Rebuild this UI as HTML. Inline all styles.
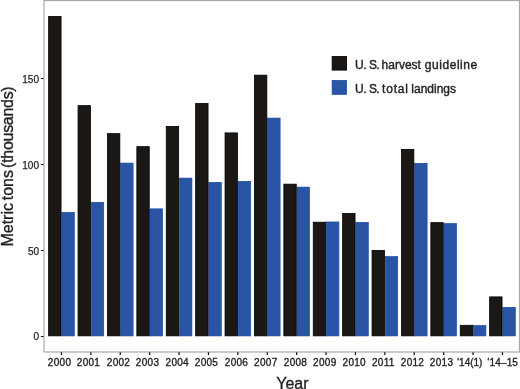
<!DOCTYPE html>
<html><head><meta charset="utf-8"><title>U.S. harvest guideline vs total landings</title>
<style>
html,body{margin:0;padding:0;background:#fff;}
body{width:520px;height:389px;overflow:hidden;}
svg{display:block;}
text{font-family:"Liberation Sans",Arial,sans-serif;fill:#231f20;stroke:#231f20;stroke-width:0.25px;}
.xl,.yl{font-size:10px;}
.xl{letter-spacing:0.3px;stroke-width:0.35px;}
.at{font-size:16px;stroke-width:0.35px;}
.lg{font-size:12px;stroke-width:0.4px;}
</style></head><body>
<svg width="520" height="389" viewBox="0 0 520 389">
<rect width="520" height="389" fill="#fff"/>
<rect x="61.80" y="212.35" width="12.50" height="123.55" fill="#2a55a5" stroke="#1a4aa6" stroke-width="0.7"/>
<rect x="48.65" y="16.40" width="12.40" height="319.45" fill="#1a1715" stroke="#000" stroke-width="0.8"/>
<rect x="91.20" y="202.35" width="12.50" height="133.55" fill="#2a55a5" stroke="#1a4aa6" stroke-width="0.7"/>
<rect x="78.05" y="105.65" width="12.40" height="230.20" fill="#1a1715" stroke="#000" stroke-width="0.8"/>
<rect x="120.60" y="163.10" width="12.50" height="172.80" fill="#2a55a5" stroke="#1a4aa6" stroke-width="0.7"/>
<rect x="107.45" y="133.65" width="12.40" height="202.20" fill="#1a1715" stroke="#000" stroke-width="0.8"/>
<rect x="150.00" y="208.85" width="12.50" height="127.05" fill="#2a55a5" stroke="#1a4aa6" stroke-width="0.7"/>
<rect x="136.85" y="146.65" width="12.40" height="189.20" fill="#1a1715" stroke="#000" stroke-width="0.8"/>
<rect x="179.40" y="178.10" width="12.50" height="157.80" fill="#2a55a5" stroke="#1a4aa6" stroke-width="0.7"/>
<rect x="166.25" y="126.40" width="12.40" height="209.45" fill="#1a1715" stroke="#000" stroke-width="0.8"/>
<rect x="208.80" y="182.35" width="12.50" height="153.55" fill="#2a55a5" stroke="#1a4aa6" stroke-width="0.7"/>
<rect x="195.65" y="103.40" width="12.40" height="232.45" fill="#1a1715" stroke="#000" stroke-width="0.8"/>
<rect x="238.20" y="181.35" width="12.50" height="154.55" fill="#2a55a5" stroke="#1a4aa6" stroke-width="0.7"/>
<rect x="225.05" y="132.90" width="12.40" height="202.95" fill="#1a1715" stroke="#000" stroke-width="0.8"/>
<rect x="267.60" y="118.10" width="12.50" height="217.80" fill="#2a55a5" stroke="#1a4aa6" stroke-width="0.7"/>
<rect x="254.45" y="75.15" width="12.40" height="260.70" fill="#1a1715" stroke="#000" stroke-width="0.8"/>
<rect x="297.00" y="187.10" width="12.50" height="148.80" fill="#2a55a5" stroke="#1a4aa6" stroke-width="0.7"/>
<rect x="283.85" y="184.15" width="12.40" height="151.70" fill="#1a1715" stroke="#000" stroke-width="0.8"/>
<rect x="326.40" y="221.95" width="12.50" height="113.95" fill="#2a55a5" stroke="#1a4aa6" stroke-width="0.7"/>
<rect x="313.25" y="222.20" width="12.40" height="113.65" fill="#1a1715" stroke="#000" stroke-width="0.8"/>
<rect x="355.80" y="222.35" width="12.50" height="113.55" fill="#2a55a5" stroke="#1a4aa6" stroke-width="0.7"/>
<rect x="342.65" y="213.40" width="12.40" height="122.45" fill="#1a1715" stroke="#000" stroke-width="0.8"/>
<rect x="385.20" y="256.60" width="12.50" height="79.30" fill="#2a55a5" stroke="#1a4aa6" stroke-width="0.7"/>
<rect x="372.05" y="250.40" width="12.40" height="85.45" fill="#1a1715" stroke="#000" stroke-width="0.8"/>
<rect x="414.60" y="163.35" width="12.50" height="172.55" fill="#2a55a5" stroke="#1a4aa6" stroke-width="0.7"/>
<rect x="401.45" y="149.40" width="12.40" height="186.45" fill="#1a1715" stroke="#000" stroke-width="0.8"/>
<rect x="444.00" y="223.60" width="12.50" height="112.30" fill="#2a55a5" stroke="#1a4aa6" stroke-width="0.7"/>
<rect x="430.85" y="222.65" width="12.40" height="113.20" fill="#1a1715" stroke="#000" stroke-width="0.8"/>
<rect x="473.40" y="325.55" width="12.50" height="10.35" fill="#2a55a5" stroke="#1a4aa6" stroke-width="0.7"/>
<rect x="460.25" y="325.30" width="12.40" height="10.55" fill="#1a1715" stroke="#000" stroke-width="0.8"/>
<rect x="502.80" y="307.35" width="12.50" height="28.55" fill="#2a55a5" stroke="#1a4aa6" stroke-width="0.7"/>
<rect x="489.65" y="296.90" width="12.40" height="38.95" fill="#1a1715" stroke="#000" stroke-width="0.8"/>
<rect x="44" y="0.5" width="475.5" height="351.5" fill="none" stroke="#a9a9a9" stroke-width="1.2"/>
<line x1="61.45" y1="352.2" x2="61.45" y2="355.1" stroke="#111" stroke-width="1.25"/>
<text x="59.60" y="365.8" text-anchor="middle" class="xl">2000</text>
<line x1="90.85" y1="352.2" x2="90.85" y2="355.1" stroke="#111" stroke-width="1.25"/>
<text x="88.50" y="365.8" text-anchor="middle" class="xl">2001</text>
<line x1="120.25" y1="352.2" x2="120.25" y2="355.1" stroke="#111" stroke-width="1.25"/>
<text x="118.50" y="365.8" text-anchor="middle" class="xl">2002</text>
<line x1="149.65" y1="352.2" x2="149.65" y2="355.1" stroke="#111" stroke-width="1.25"/>
<text x="147.60" y="365.8" text-anchor="middle" class="xl">2003</text>
<line x1="179.05" y1="352.2" x2="179.05" y2="355.1" stroke="#111" stroke-width="1.25"/>
<text x="177.25" y="365.8" text-anchor="middle" class="xl">2004</text>
<line x1="208.45" y1="352.2" x2="208.45" y2="355.1" stroke="#111" stroke-width="1.25"/>
<text x="206.50" y="365.8" text-anchor="middle" class="xl">2005</text>
<line x1="237.85" y1="352.2" x2="237.85" y2="355.1" stroke="#111" stroke-width="1.25"/>
<text x="236.50" y="365.8" text-anchor="middle" class="xl">2006</text>
<line x1="267.25" y1="352.2" x2="267.25" y2="355.1" stroke="#111" stroke-width="1.25"/>
<text x="265.80" y="365.8" text-anchor="middle" class="xl">2007</text>
<line x1="296.65" y1="352.2" x2="296.65" y2="355.1" stroke="#111" stroke-width="1.25"/>
<text x="295.50" y="365.8" text-anchor="middle" class="xl">2008</text>
<line x1="326.05" y1="352.2" x2="326.05" y2="355.1" stroke="#111" stroke-width="1.25"/>
<text x="324.80" y="365.8" text-anchor="middle" class="xl">2009</text>
<line x1="355.45" y1="352.2" x2="355.45" y2="355.1" stroke="#111" stroke-width="1.25"/>
<text x="354.25" y="365.8" text-anchor="middle" class="xl">2010</text>
<line x1="384.85" y1="352.2" x2="384.85" y2="355.1" stroke="#111" stroke-width="1.25"/>
<text x="383.30" y="365.8" text-anchor="middle" class="xl">2011</text>
<line x1="414.25" y1="352.2" x2="414.25" y2="355.1" stroke="#111" stroke-width="1.25"/>
<text x="412.50" y="365.8" text-anchor="middle" class="xl">2012</text>
<line x1="443.65" y1="352.2" x2="443.65" y2="355.1" stroke="#111" stroke-width="1.25"/>
<text x="441.60" y="365.8" text-anchor="middle" class="xl">2013</text>
<line x1="473.05" y1="352.2" x2="473.05" y2="355.1" stroke="#111" stroke-width="1.25"/>
<text x="469.60" y="365.8" text-anchor="middle" class="xl" style="letter-spacing:-0.05px">‘14(1)</text>
<line x1="502.45" y1="352.2" x2="502.45" y2="355.1" stroke="#111" stroke-width="1.25"/>
<text x="502.60" y="365.8" text-anchor="middle" class="xl" style="letter-spacing:0.15px">‘14–15</text>
<line x1="40.9" y1="336.50" x2="43.6" y2="336.50" stroke="#111" stroke-width="1.1"/>
<text x="39" y="339.95" text-anchor="end" class="yl">0</text>
<line x1="40.9" y1="250.50" x2="43.6" y2="250.50" stroke="#111" stroke-width="1.1"/>
<text x="39" y="255.02" text-anchor="end" class="yl">50</text>
<line x1="40.9" y1="164.50" x2="43.6" y2="164.50" stroke="#111" stroke-width="1.1"/>
<text x="39" y="169.18" text-anchor="end" class="yl">100</text>
<line x1="40.9" y1="78.50" x2="43.6" y2="78.50" stroke="#111" stroke-width="1.1"/>
<text x="39" y="83.35" text-anchor="end" class="yl">150</text>
<text x="292.4" y="389.0" text-anchor="middle" class="at">Year</text>
<g transform="translate(13.0,0) rotate(-90)">
<text y="0" class="at"><tspan x="-246.60">Metric </tspan><tspan x="-200.30">tons </tspan><tspan x="-167.90" style="letter-spacing:-0.29px">(thousands)</tspan></text>
</g>
<rect x="332.15" y="56.40" width="14.45" height="13.70" fill="#1a1715" stroke="#000" stroke-width="0.8"/>
<rect x="332.10" y="80.35" width="14.55" height="14.05" fill="#2a55a5" stroke="#1a4aa6" stroke-width="0.7"/>
<text y="68.75" class="lg"><tspan x="355.1">U</tspan><tspan x="363.3">. </tspan><tspan x="369.0">S</tspan><tspan x="376.2">. </tspan><tspan x="381.6">harvest </tspan><tspan x="424.8" style="letter-spacing:0.55px">guideline</tspan></text>
<text y="92.75" class="lg"><tspan x="355.1">U</tspan><tspan x="363.3">. </tspan><tspan x="369.0">S</tspan><tspan x="376.2">. </tspan><tspan x="382.1" style="letter-spacing:0.8px">total </tspan><tspan x="411.3">landings</tspan></text>
</svg>
</body></html>
